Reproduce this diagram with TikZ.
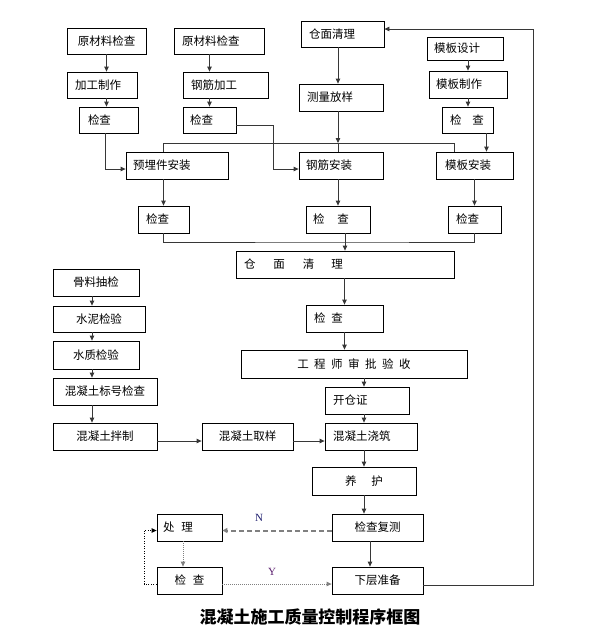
\documentclass[tikz,border=0pt]{standalone}
\usepackage{fontspec}
\setmainfont{Noto Sans CJK SC}
\newfontfamily\serf{Liberation Serif}
\usetikzlibrary{arrows.meta,calc}
\definecolor{lc}{RGB}{55,55,55}
\definecolor{dg}{RGB}{128,128,128}
\definecolor{ncol}{RGB}{30,30,110}
\definecolor{ycol}{RGB}{90,30,110}
\tikzset{
  box/.style={draw=black, line width=0.8pt, inner sep=0pt, font=\fontsize{11.5}{12}\selectfont},
  lb/.style={box, align=left, text width=#1},
  arr/.style={draw=lc, line width=0.8pt, -{Triangle[length=5pt,width=4.5pt]}},
  ln/.style={draw=lc, line width=0.8pt},
  nline/.style={draw=dg, line width=2pt, dash pattern=on 5pt off 3pt, -{Triangle[length=5pt,width=5pt]}},
  yline/.style={draw=gray, line width=0.9pt, dash pattern=on 1pt off 1pt, -{Triangle[length=5pt,width=4.5pt]}},
  lpline/.style={draw=black, line width=0.8pt, dash pattern=on 1pt off 1.5pt, -{Triangle[length=5pt,width=4.5pt]}},
  lab/.style={font=\serf\fontsize{11}{11}\selectfont, inner sep=0pt}
}
\begin{document}
\begin{tikzpicture}[x=1pt,y=-1pt]
\useasboundingbox (0,0) rectangle (592,633);
% top left columns
\node[box, minimum width=79pt, minimum height=26pt] (ycl1) at (106.5,41) {原材料检查};
\node[lb=74pt, minimum width=90pt, minimum height=26pt] (ycl2) at (219,41) {原材料检查};
\node[lb=67pt, minimum width=83pt, minimum height=26pt] (cm1) at (342.5,34) {仓面清理};
\node[lb=54pt, minimum width=70pt, minimum height=26pt] (jg) at (102,85) {加工制作};
\node[lb=69pt, minimum width=85pt, minimum height=26pt] (gjjg) at (225.5,85) {钢筋加工};
\node[lb=68pt, minimum width=84pt, minimum height=27pt] (cl) at (341,97.5) {测量放样};
\node[lb=62pt, minimum width=76pt, minimum height=23pt] (mbsj) at (465,48.5) {模板设计};
\node[lb=64pt, minimum width=78pt, minimum height=27pt] (mbzz) at (468,84.5) {模板制作};
\node[lb=41pt, minimum width=59pt, minimum height=26pt] (jc1) at (108.5,120) {检查};
\node[lb=39pt, minimum width=53pt, minimum height=26pt] (jc2) at (209.5,120) {检查};
\node[lb=35pt, minimum width=51pt, minimum height=26pt] (jc3) at (467.5,120) {检\hspace{11pt}查};
% install row
\node[lb=88pt, minimum width=102pt, minimum height=27pt] (ymj) at (177,165.5) {预埋件安装};
\node[lb=70pt, minimum width=84pt, minimum height=27pt] (gjaz) at (341,165.5) {钢筋安装};
\node[lb=59pt, minimum width=77pt, minimum height=27pt] (mbaz) at (474.5,165.5) {模板安装};
\node[lb=35pt, minimum width=51pt, minimum height=27pt] (jc4) at (163.5,219.5) {检查};
\node[lb=50pt, minimum width=64pt, minimum height=27pt] (jc5) at (338,219.5) {检\hspace{13pt}查};
\node[lb=37pt, minimum width=53pt, minimum height=27pt] (jc6) at (474.5,219.5) {检查};
\node[lb=202pt, minimum width=218pt, minimum height=27pt] (cm2) at (345,264.5) {仓\hspace{18pt}面\hspace{18pt}清\hspace{17pt}理};
% left column
\node[box, minimum width=86pt, minimum height=27pt] (gl) at (96,282.5) {骨料抽检};
\node[box, minimum width=92pt, minimum height=26pt] (sn) at (99,319) {水泥检验};
\node[box, minimum width=86pt, minimum height=28pt] (sz) at (96,355) {水质检验};
\node[box, minimum width=104pt, minimum height=27pt] (bh) at (105,391.5) {混凝土标号检查};
\node[box, minimum width=104pt, minimum height=27pt] (bz) at (105,436.5) {混凝土拌制};
\node[box, minimum width=91pt, minimum height=27pt] (qy) at (247.5,436.5) {混凝土取样};
% middle column
\node[lb=61pt, minimum width=77pt, minimum height=27pt] (jc7) at (344.5,318.5) {检\hspace{6pt}查};
\node[box, minimum width=226pt, minimum height=28pt] (gcs) at (354,364) {工\hspace{5.5pt}程\hspace{5.5pt}师\hspace{5.5pt}审\hspace{5.5pt}批\hspace{5.5pt}验\hspace{5.5pt}收};
\node[lb=68pt, minimum width=84pt, minimum height=27pt] (kcz) at (367,400.5) {开仓证};
\node[lb=76pt, minimum width=92pt, minimum height=27pt] (jz) at (371,436.5) {混凝土浇筑};
\node[box, minimum width=104pt, minimum height=28pt] (yh) at (364,481) {养\hspace{15pt}护};
\node[box, minimum width=91pt, minimum height=27pt] (fc) at (377.5,527.5) {检查复测};
\node[lb=53pt, minimum width=65pt, minimum height=27pt] (cl2) at (189.5,527.5) {处\hspace{7pt}理};
\node[box, minimum width=65pt, minimum height=27pt] (jc8) at (189.5,580.5) {检\hspace{7pt}查};
\node[box, minimum width=91pt, minimum height=27pt] (xc) at (377.5,580.5) {下层准备};
\node[font=\bfseries\fontsize{17}{17}\selectfont, inner sep=0pt] (title) at (310,617) {混凝土施工质量控制程序框图};
% coordinates
\coordinate (k1) at (273,169);
\coordinate (bl) at (163,143);
\coordinate (br) at (454,143);
\coordinate (bm) at (338,143);
\coordinate (b2) at (345,242);
\coordinate (lx) at (92,0);
\coordinate (lp) at (144,530.5);
\coordinate (rt) at (533,29);
% connectors top
\draw[arr] (ycl1.south) -- (ycl1.south |- jg.north);
\draw[arr] (jg.south -| ycl1.south) -- (ycl1.south |- jc1.north);
\draw[arr] ([xshift=-3.5pt]jc1.south) |- ([yshift=-3.5pt]ymj.west);
\draw[arr] (ycl2.south -| jc2.north) -- (gjjg.north -| jc2.north);
\draw[arr] (gjjg.south -| jc2.north) -- (jc2.north);
\draw[arr] ([yshift=-5pt]jc2.east) -| (k1) -- (k1 -| gjaz.west);
\draw[arr] ([xshift=-4.5pt]cm1.south) -- ([xshift=-4.5pt]cm1.south |- cl.north);
\draw[arr] ([xshift=-3pt]cl.south) -- (bm);
\draw[ln] (bm) -- ([xshift=-3pt]gjaz.north);
\draw[ln] (ymj.north -| bl) -- (bl) -- (br) -- (br |- mbaz.north);
\draw[arr] (mbzz.north |- mbsj.south) -- (mbzz.north);
\draw[arr] (mbzz.south) -- (mbzz.south |- jc3.north);
\draw[arr] ([xshift=19pt]jc3.south) -- ([xshift=19pt]jc3.south |- mbaz.north);
\draw[arr] (jc4.north |- ymj.south) -- (jc4.north);
\draw[arr] (jc5.north |- gjaz.south) -- (jc5.north);
\draw[arr] (mbaz.south) -- (jc6.north);
\draw[ln] (jc4.south) |- (b2) -| (jc6.south);
\draw[arr] ([xshift=7pt]jc5.south) -- (cm2.north);
% middle
\draw[arr] (jc7.north |- cm2.south) -- (jc7.north);
\draw[arr] (jc7.south) -- (jc7.south |- gcs.north);
\draw[arr] (gcs.south -| yh.north) -- (kcz.north -| yh.north);
\draw[arr] (kcz.south -| yh.north) -- (jz.north -| yh.north);
\draw[arr] (jz.south -| yh.north) -- (yh.north);
\draw[arr] (yh.south) -- (yh.south |- fc.north);
\draw[arr] ([xshift=-7.5pt]fc.south) -- ([xshift=-7.5pt]xc.north);
% left column
\draw[arr] (gl.south -| lx) -- (sn.north -| lx);
\draw[arr] (sn.south -| lx) -- (sz.north -| lx);
\draw[arr] (sz.south -| lx) -- (bh.north -| lx);
\draw[arr] (bh.south -| lx) -- (bz.north -| lx);
\draw[arr] ([yshift=-4.5pt]bz.east) -- ([yshift=-4.5pt]qy.west);
\draw[arr] ([yshift=-4.5pt]qy.east) -- ([yshift=-4.5pt]jz.west);
% bottom loop
\draw[nline] ([yshift=-3pt]fc.west) -- ([yshift=-3pt]cl2.east);
\node[lab, text=ncol] (nlab) at (259,518) {N};
\draw[yline] ([xshift=-6.5pt]cl2.south) -- ([xshift=-6.5pt]jc8.north);
\draw[yline] ([yshift=-3.5pt]jc8.east) -- ([yshift=-3.5pt]xc.west);
\node[lab, text=ycol] (ylab) at (272,572) {Y};
\draw[lpline] ([yshift=-3.5pt]jc8.west) -| (lp) -- (lp -| cl2.west);
\draw[arr] ([yshift=-4.5pt]xc.east) -| (rt) -- (rt -| cm1.east);
\end{tikzpicture}
\end{document}
